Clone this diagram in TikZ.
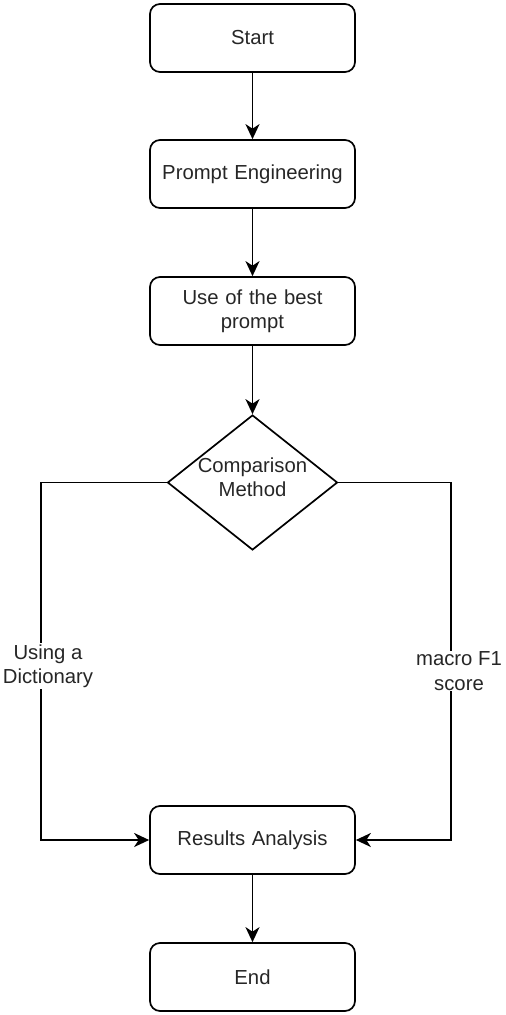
\documentclass[tikz,border=0pt]{standalone}
\usepackage{fontspec}
\setmainfont{Liberation Sans}
\usetikzlibrary{shapes.geometric,arrows.meta}
\begin{document}
\begin{tikzpicture}[x=1pt,y=-1pt,
  every node/.style={font=\fontsize{20.3}{24.5}\selectfont, text=black!85},
  box/.style={draw=black, line width=1.7pt, rounded corners=10pt, minimum width=205pt, minimum height=68pt, inner sep=0pt, align=center, text width=190pt},
  dec/.style={draw=black, line width=1.7pt, diamond, minimum width=170pt, minimum height=135pt, inner sep=0pt, align=center},
  lbl/.style={fill=white, align=center, inner sep=1pt},
  arr/.style={draw=black, line width=1.8pt, -{Stealth[length=15pt,width=14pt,inset=4.5pt]}},
  ln/.style={draw=black, line width=1.8pt}]
\useasboundingbox (0,0) rectangle (506,1015);
\node[box] (start) at (252.5,38) {Start};
\node[box] (pe) at (252.5,174) {Prompt Engineering};
\node[box] (use) at (252.5,311) {Use of the best\\prompt};
\node[dec] (cmp) at (252.5,482.5) {};
\node (cmpt) at (252.5,477) [align=center] {Comparison\\Method};
\node[box] (res) at (252.5,840) {Results Analysis};
\node[box] (end) at (252.5,977) {End};
\coordinate (lc) at (41,482.5);
\coordinate (rc) at (451,482.5);
\draw[arr] (start) -- (pe);
\draw[arr] (pe) -- (use);
\draw[arr] (use) -- (cmp);
\draw[arr] (res) -- (end);
\draw[arr] (cmp.west) -- (lc) |- (res.west);
\draw[arr] (cmp.east) -- (rc) |- (res.east);
\node[lbl] (ld) at (48,666) {Using a\\Dictionary};
\node[lbl] (rd) at (459,671) {macro F1\\score};
\end{tikzpicture}
\end{document}
